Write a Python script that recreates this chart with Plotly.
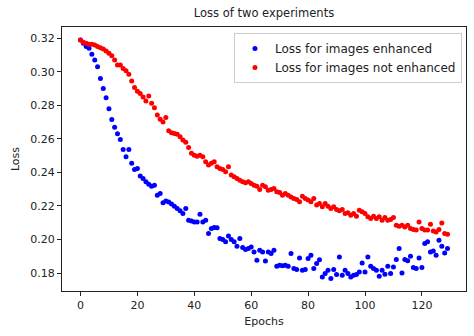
import plotly.graph_objects as go

epochs = list(range(130))

loss_enhanced = [
    0.3190, 0.3170, 0.3150, 0.3140, 0.3105, 0.3070, 0.3030, 0.2960, 0.2900, 0.2845,
    0.2780, 0.2715, 0.2670, 0.2630, 0.2597, 0.2537, 0.2493, 0.2537, 0.2454, 0.2418,
    0.2424, 0.2378, 0.2364, 0.2344, 0.2330, 0.2318, 0.2324, 0.2264, 0.2274, 0.2219,
    0.2230, 0.2223, 0.2211, 0.2199, 0.2185, 0.2171, 0.2155, 0.2185, 0.2115, 0.2111,
    0.2105, 0.2105, 0.2151, 0.2105, 0.2115, 0.2036, 0.2066, 0.2072, 0.2070, 0.2006,
    0.2000, 0.1986, 0.2021, 0.2000, 0.1986, 0.1960, 0.2006, 0.1952, 0.1940, 0.1946,
    0.1956, 0.1926, 0.1876, 0.1936, 0.1926, 0.1872, 0.1926, 0.1916, 0.1936, 0.1840,
    0.1846, 0.1843, 0.1846, 0.1840, 0.1916, 0.1827, 0.1821, 0.1890, 0.1817, 0.1821,
    0.1887, 0.1906, 0.1827, 0.1857, 0.1880, 0.1777, 0.1797, 0.1817, 0.1767, 0.1821,
    0.1791, 0.1896, 0.1787, 0.1817, 0.1797, 0.1777, 0.1787, 0.1791, 0.1807, 0.1860,
    0.1807, 0.1896, 0.1840, 0.1827, 0.1817, 0.1781, 0.1817, 0.1793, 0.1840, 0.1797,
    0.1836, 0.1881, 0.1946, 0.1801, 0.1881, 0.1873, 0.1900, 0.1833, 0.1827, 0.1890,
    0.1833, 0.1976, 0.1986, 0.1926, 0.1932, 0.1906, 0.1996, 0.1960, 0.1920, 0.1946,
]

loss_not_enhanced = [
    0.3190, 0.3176, 0.3170, 0.3164, 0.3164, 0.3160, 0.3150, 0.3144, 0.3136, 0.3124,
    0.3110, 0.3096, 0.3070, 0.3041, 0.3041, 0.3019, 0.3006, 0.2986, 0.2945, 0.2907,
    0.2884, 0.2870, 0.2850, 0.2826, 0.2856, 0.2812, 0.2786, 0.2742, 0.2717, 0.2700,
    0.2727, 0.2648, 0.2636, 0.2632, 0.2627, 0.2613, 0.2593, 0.2580, 0.2549, 0.2515,
    0.2503, 0.2497, 0.2503, 0.2493, 0.2463, 0.2444, 0.2454, 0.2463, 0.2434, 0.2424,
    0.2418, 0.2404, 0.2434, 0.2384, 0.2374, 0.2364, 0.2354, 0.2344, 0.2338, 0.2344,
    0.2334, 0.2324, 0.2318, 0.2298, 0.2324, 0.2314, 0.2294, 0.2298, 0.2304, 0.2284,
    0.2280, 0.2264, 0.2274, 0.2264, 0.2254, 0.2245, 0.2239, 0.2225, 0.2258, 0.2245,
    0.2235, 0.2225, 0.2245, 0.2205, 0.2215, 0.2195, 0.2215, 0.2199, 0.2185, 0.2195,
    0.2179, 0.2171, 0.2179, 0.2155, 0.2159, 0.2145, 0.2155, 0.2139, 0.2175, 0.2165,
    0.2155, 0.2135, 0.2125, 0.2139, 0.2125, 0.2135, 0.2115, 0.2131, 0.2115, 0.2119,
    0.2131, 0.2085, 0.2079, 0.2085, 0.2075, 0.2085, 0.2066, 0.2059, 0.2056, 0.2105,
    0.2066, 0.2056, 0.2056, 0.2091, 0.2051, 0.2045, 0.2059, 0.2099, 0.2036, 0.2032,
]

x_ticks = [0, 20, 40, 60, 80, 100, 120]
y_ticks = [0.18, 0.20, 0.22, 0.24, 0.26, 0.28, 0.30, 0.32]
y_tick_labels = ["0.18", "0.20", "0.22", "0.24", "0.26", "0.28", "0.30", "0.32"]

FONT = "DejaVu Sans"

fig = go.Figure()
fig.add_trace(go.Scatter(
    x=epochs, y=loss_enhanced, mode="markers", name="Loss for images enhanced",
    marker=dict(color="#0000ff", size=5, line=dict(width=0)),
))
fig.add_trace(go.Scatter(
    x=epochs, y=loss_not_enhanced, mode="markers", name="Loss for images not enhanced",
    marker=dict(color="#ff0000", size=5, line=dict(width=0)),
))

axis_common = dict(
    showline=True, linecolor="#222222", linewidth=1, mirror=True,
    ticks="outside", ticklen=4, tickcolor="#222222", tickwidth=1,
    showgrid=False, zeroline=False,
    tickfont=dict(family=FONT, size=11, color="#222222"),
)

fig.update_layout(
    width=474, height=336,
    margin=dict(l=62, r=8, t=27, b=45),
    paper_bgcolor="white", plot_bgcolor="white",
    font=dict(family=FONT, color="#222222"),
    title=dict(text="Loss of two experiments", x=(62 + 466) / 2 / 474, xanchor="center",
               y=1 - 13 / 336, yanchor="middle", font=dict(family=FONT, size=11.5, color="#222222")),
    xaxis=dict(range=[-6.5, 135.5], tickvals=x_ticks,
               title=dict(text="Epochs", font=dict(family=FONT, size=11), standoff=6),
               **axis_common),
    yaxis=dict(range=[0.1693, 0.3267], tickvals=y_ticks, ticktext=y_tick_labels,
               title=dict(text="Loss", font=dict(family=FONT, size=11), standoff=8),
               **axis_common),
    legend=dict(x=0.99, y=0.977, xanchor="right", yanchor="top",
                bgcolor="rgba(255,255,255,0.8)", bordercolor="#cccccc", borderwidth=1,
                font=dict(family=FONT, size=12, color="#222222"),
                tracegroupgap=0),
    showlegend=True,
)

fig.write_html("out.html")
